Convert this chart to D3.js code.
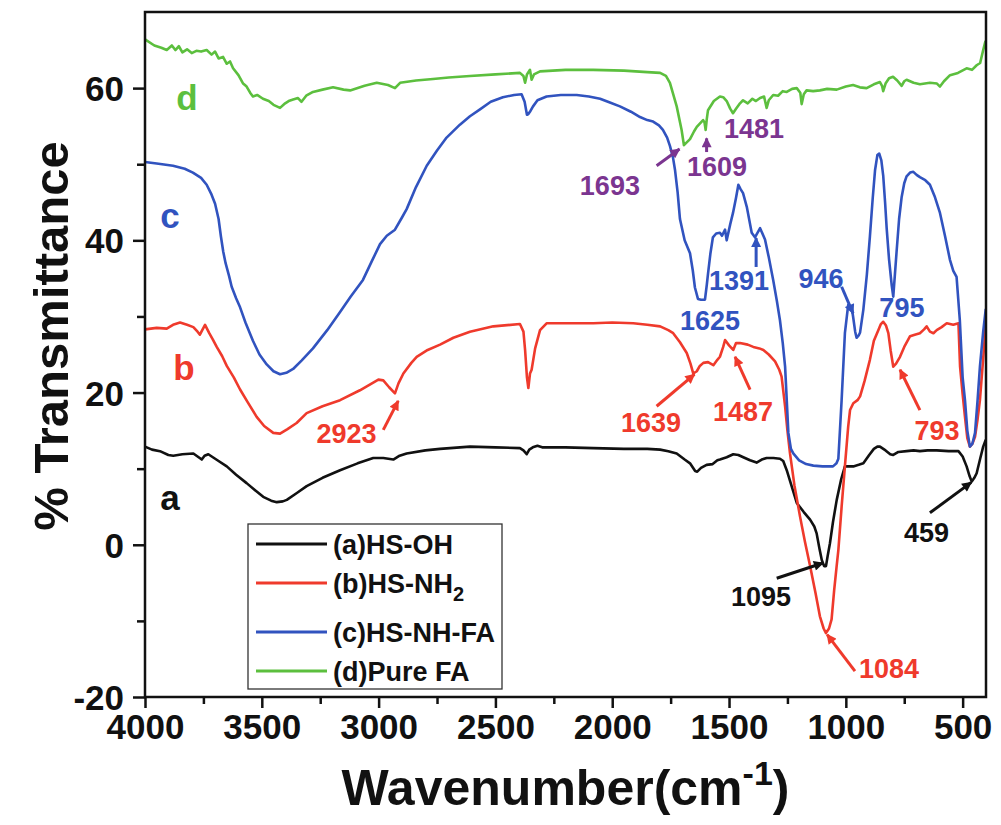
<!DOCTYPE html>
<html>
<head>
<meta charset="utf-8">
<script src="https://cdn.jsdelivr.net/npm/d3@7/dist/d3.min.js"></script>
<style>
  body { margin: 0; background: #fff; }
  svg text { font-family: "Liberation Sans", Arial, sans-serif; font-weight: bold; }
</style>
</head>
<body>
<div id="chart"></div>
<script>
// spectra: [wavenumber, % transmittance]
let specA = [[4000,12.9],[3970,12.5],[3936,12.3],[3900,11.8],[3879,11.7],[3840,11.9],[3793,12.0],[3775,11.6],[3757,11.2],[3745,11.7],[3729,11.9],[3690,11.1],[3650,10.3],[3610,9.2],[3565,8.1],[3530,7.2],[3494,6.3],[3460,5.8],[3436,5.6],[3410,5.7],[3393,5.9],[3350,6.8],[3308,7.7],[3240,8.8],[3165,9.8],[3090,10.7],[3023,11.4],[2980,11.4],[2937,11.2],[2910,11.7],[2880,12.0],[2800,12.4],[2737,12.6],[2609,12.9],[2500,12.8],[2395,12.7],[2380,12.4],[2366,11.9],[2355,12.5],[2340,12.8],[2320,13.0],[2300,12.8],[2200,12.8],[2081,12.7],[1950,12.6],[1850,12.6],[1795,12.5],[1760,12.3],[1724,12.0],[1690,11.2],[1667,10.7],[1645,9.7],[1636,9.6],[1620,10.1],[1596,10.5],[1570,10.6],[1550,11.1],[1539,11.2],[1510,11.5],[1482,11.9],[1460,11.8],[1439,11.5],[1410,11.1],[1382,10.8],[1360,11.2],[1339,11.4],[1310,11.4],[1282,11.3],[1268,11.0],[1253,9.8],[1235,8.0],[1210,5.5],[1180,4.3],[1153,3.3],[1135,2.4],[1125,1.5],[1113,-0.5],[1103,-2.0],[1093,-2.8],[1085,-2.8],[1078,-1.5],[1068,0.2],[1055,3.0],[1039,5.9],[1020,8.6],[1004,10.3],[985,10.3],[968,10.3],[945,10.5],[925,10.7],[900,11.8],[880,12.6],[865,12.9],[854,12.9],[830,12.4],[810,11.9],[797,11.8],[775,12.2],[740,12.3],[710,12.4],[683,12.3],[650,12.4],[611,12.4],[560,12.3],[518,12.3],[500,11.6],[483,10.3],[470,9.0],[461,8.3],[450,8.8],[440,9.4],[425,11.3],[412,12.9],[401,13.8]];

let specB = [[4000,28.3],[3950,28.5],[3907,28.4],[3880,28.9],[3850,29.2],[3820,28.9],[3793,28.6],[3775,28.0],[3765,27.6],[3755,28.2],[3743,28.9],[3725,27.8],[3710,27.0],[3693,26.0],[3670,24.8],[3650,23.5],[3620,22.0],[3593,20.4],[3560,18.7],[3522,16.8],[3490,15.6],[3451,14.7],[3422,14.6],[3390,15.2],[3351,16.0],[3308,17.3],[3240,18.2],[3165,19.0],[3080,20.3],[3001,21.7],[2980,21.6],[2955,20.7],[2930,19.9],[2915,21.2],[2894,22.5],[2860,23.9],[2837,24.7],[2790,25.6],[2737,26.3],[2680,27.2],[2609,28.0],[2509,28.7],[2395,29.0],[2380,28.0],[2373,25.6],[2365,22.0],[2359,20.6],[2352,22.5],[2345,23.0],[2330,25.8],[2309,28.2],[2281,29.1],[2200,29.1],[2081,29.1],[2000,29.2],[1910,29.1],[1850,28.9],[1795,28.7],[1760,28.2],[1739,27.8],[1710,26.6],[1681,25.2],[1665,23.8],[1653,22.5],[1638,22.8],[1625,23.5],[1610,23.9],[1590,24.0],[1567,23.6],[1550,24.3],[1539,24.7],[1525,26.0],[1517,26.9],[1500,26.2],[1482,25.6],[1470,26.5],[1453,26.5],[1420,26.3],[1396,26.0],[1370,25.8],[1353,25.6],[1330,25.0],[1303,24.1],[1285,23.0],[1275,22.1],[1265,19.5],[1260,18.2],[1250,15.0],[1239,12.0],[1220,7.8],[1196,3.7],[1175,0.4],[1153,-2.8],[1130,-6.3],[1111,-9.4],[1095,-11.0],[1085,-11.6],[1072,-11.0],[1061,-9.8],[1050,-6.0],[1040,-3.0],[1032,-0.7],[1018,5.0],[1004,10.3],[990,15.5],[982,17.7],[968,18.6],[950,19.0],[939,19.5],[920,21.5],[897,24.3],[880,26.8],[861,28.2],[850,29.0],[840,29.3],[828,28.8],[818,27.8],[808,25.5],[797,23.4],[785,23.8],[768,24.7],[750,26.0],[725,27.4],[705,27.6],[683,27.8],[665,28.3],[654,28.7],[640,28.0],[625,27.8],[611,28.2],[590,28.6],[568,29.1],[540,28.9],[518,29.1],[511,23.4],[500,19.8],[490,16.8],[480,14.0],[469,12.9],[458,13.3],[447,14.2],[436,16.5],[426,19.0],[412,24.5],[401,29.0]];

let specC = [[4000,50.3],[3950,50.1],[3880,49.8],[3830,49.4],[3795,48.9],[3760,48.2],[3736,47.3],[3715,46.0],[3700,44.8],[3685,42.8],[3675,40.5],[3665,38.5],[3655,37.0],[3640,35.3],[3629,33.9],[3610,32.4],[3593,31.2],[3570,29.2],[3538,26.8],[3510,25.0],[3479,23.7],[3450,22.8],[3422,22.4],[3395,22.6],[3366,23.1],[3330,24.2],[3281,25.8],[3220,28.2],[3165,30.6],[3120,32.6],[3067,34.8],[3030,37.2],[2994,39.5],[2965,40.6],[2930,41.4],[2900,43.0],[2880,44.1],[2840,47.0],[2794,49.8],[2750,51.8],[2709,53.5],[2652,55.2],[2609,56.3],[2566,57.2],[2520,58.2],[2468,58.8],[2420,59.1],[2388,59.2],[2375,58.2],[2365,56.5],[2359,56.6],[2350,57.0],[2339,57.6],[2320,58.4],[2281,58.9],[2220,59.1],[2152,59.1],[2100,58.9],[2052,58.6],[2010,58.1],[1967,57.6],[1920,56.9],[1881,56.2],[1850,55.8],[1825,55.6],[1800,55.1],[1783,54.5],[1765,53.5],[1753,52.4],[1740,50.9],[1731,49.2],[1720,46.3],[1710,42.8],[1690,40.0],[1667,38.3],[1655,36.0],[1646,33.8],[1633,32.3],[1620,32.2],[1603,32.2],[1595,34.2],[1590,35.6],[1580,38.2],[1569,40.4],[1555,40.9],[1539,41.0],[1530,40.6],[1517,41.4],[1510,40.0],[1495,42.1],[1483,43.6],[1470,45.6],[1460,47.3],[1450,46.7],[1440,46.2],[1424,44.4],[1403,41.0],[1389,40.4],[1367,41.6],[1346,40.1],[1330,37.8],[1311,34.8],[1295,32.0],[1282,29.5],[1270,26.5],[1260,23.4],[1246,14.7],[1235,12.6],[1225,12.0],[1200,11.1],[1170,10.6],[1139,10.4],[1100,10.3],[1055,10.3],[1040,10.7],[1032,11.3],[1018,19.0],[1004,27.8],[990,31.5],[975,31.2],[969,30.0],[960,28.0],[954,27.2],[945,27.5],[939,27.9],[925,30.9],[910,35.5],[897,40.5],[885,45.5],[875,49.2],[865,51.2],[857,51.4],[848,50.5],[840,48.5],[832,45.0],[825,41.5],[815,37.5],[804,34.2],[797,32.6],[790,35.5],[783,38.4],[772,42.8],[761,45.7],[750,47.5],[740,48.4],[725,48.9],[711,49.0],[697,48.6],[683,48.3],[660,47.9],[640,47.3],[620,45.8],[597,43.6],[575,40.5],[554,37.4],[540,36.0],[526,35.2],[512,29.5],[500,22.0],[490,19.0],[480,15.0],[469,12.9],[458,13.3],[447,14.7],[436,19.0],[426,23.4],[412,28.0],[401,31.0]];

let specD = [[4000,66.4],[3960,65.6],[3930,65.3],[3907,65.0],[3885,65.6],[3870,65.0],[3855,65.5],[3840,64.7],[3820,65.1],[3800,64.6],[3780,64.9],[3760,64.8],[3736,65.0],[3715,64.4],[3700,64.8],[3685,63.9],[3666,64.1],[3650,63.2],[3636,63.5],[3623,62.6],[3600,61.7],[3580,60.6],[3565,60.2],[3550,59.4],[3538,58.9],[3520,59.1],[3495,58.6],[3470,58.3],[3450,57.8],[3422,57.4],[3400,58.0],[3385,58.3],[3366,58.5],[3345,58.7],[3330,58.2],[3310,59.0],[3281,59.5],[3240,59.8],[3195,60.1],[3150,59.8],[3122,59.7],[3060,60.3],[3008,60.7],[2960,60.4],[2930,60.0],[2908,60.7],[2840,61.0],[2767,61.2],[2700,61.4],[2609,61.6],[2500,61.8],[2395,62.0],[2380,61.6],[2373,60.7],[2365,61.8],[2352,62.4],[2345,61.1],[2335,61.8],[2309,62.2],[2200,62.4],[2082,62.4],[1950,62.3],[1850,62.1],[1795,62.0],[1770,61.6],[1753,60.7],[1740,59.3],[1724,57.6],[1703,54.5],[1693,52.5],[1680,52.9],[1667,53.3],[1650,54.3],[1638,54.9],[1611,55.8],[1605,55.5],[1600,54.5],[1595,56.0],[1590,57.1],[1565,58.3],[1539,58.9],[1525,58.8],[1510,58.3],[1495,57.3],[1483,56.7],[1470,57.3],[1453,58.0],[1440,58.4],[1420,58.0],[1400,58.6],[1385,58.3],[1367,58.7],[1350,58.9],[1339,57.4],[1330,58.4],[1311,59.1],[1290,59.0],[1270,59.6],[1253,59.5],[1230,59.9],[1210,60.0],[1195,59.4],[1189,57.9],[1180,59.2],[1168,59.7],[1140,59.6],[1111,59.7],[1080,59.9],[1039,59.8],[1000,60.2],[969,60.4],[940,60.1],[911,60.0],[880,60.5],[854,60.8],[845,60.3],[840,59.6],[830,60.6],[815,61.3],[798,61.5],[780,61.0],[761,60.3],[750,60.9],[740,61.1],[710,60.7],[683,60.5],[640,60.7],[610,60.6],[597,60.2],[580,60.9],[554,61.7],[520,62.0],[483,62.6],[460,62.4],[440,63.0],[425,63.3],[412,65.0],[402,66.2]];

let seriesNames = ["(a)HS-OH", "(b)HS-NH", "(c)HS-NH-FA", "(d)Pure FA"];
let seriesLetters = ["a", "b", "c", "d"];
let seriesColors = ["#111111", "#ef3a2c", "#3153bf", "#5cbf3e"];
let seriesData = [specA, specB, specC, specD];
// where the curve letters sit [wavenumber, T]
let letterPos = [[3893, 4.6], [3833, 21.7], [3893, 41.6], [3820, 57.1]];

let xTicks = [4000, 3500, 3000, 2500, 2000, 1500, 1000, 500];
let xMinor = [3750, 3250, 2750, 2250, 1750, 1250, 750];
let yTicks = [-20, 0, 20, 40, 60];
let yMinor = [-10, 10, 30, 50];

let purple = "#7b3590";
// peak labels: text at [tx, ty], arrow from [x1,y1] to [x2,y2] (data coords)
let peakLabels = [
  {text: "1693", color: purple, tx: 2010, ty: 46.0, arrow: [1810, 49.8, 1712, 52.0]},
  {text: "1609", color: purple, tx: 1551, ty: 48.5, arrow: [1596, 51.6, 1596, 53.4]},
  {text: "1481", color: purple, tx: 1393, ty: 53.4, arrow: null},
  {text: "1625", color: "#3153bf", tx: 1581, ty: 28.2, arrow: null},
  {text: "1391", color: "#3153bf", tx: 1457, ty: 33.5, arrow: [1384, 36.5, 1384, 40.3]},
  {text: "946", color: "#3153bf", tx: 1106, ty: 33.7, arrow: [1018, 33.9, 969, 30.4]},
  {text: "795", color: "#3153bf", tx: 760, ty: 29.9, arrow: null},
  {text: "2923", color: "#ef3a2c", tx: 3137, ty: 13.4, arrow: [2980, 15.1, 2916, 18.9]},
  {text: "1639", color: "#ef3a2c", tx: 1834, ty: 14.8, arrow: [1810, 18.2, 1648, 22.4]},
  {text: "1487", color: "#ef3a2c", tx: 1440, ty: 16.3, arrow: [1410, 20.4, 1474, 24.7]},
  {text: "793", color: "#ef3a2c", tx: 610, ty: 13.8, arrow: [683, 17.7, 768, 23.0]},
  {text: "1084", color: "#ef3a2c", tx: 815, ty: -17.5, arrow: [961, -16.6, 1080, -11.8]},
  {text: "1095", color: "#111111", tx: 1363, ty: -8.1, arrow: [1296, -4.4, 1098, -2.4]},
  {text: "459", color: "#111111", tx: 655, ty: 0.4, arrow: [640, 4.2, 463, 8.2]}
];

let width = 1001, height = 825;
let margin = {left: 145, top: 12, right: 15, bottom: 128};

let svg = d3.select("#chart").append("svg")
  .attr("width", width)
  .attr("height", height);

let xScale = d3.scaleLinear()
  .domain([4000, 400])
  .range([margin.left, width - margin.right]);
let yScale = d3.scaleLinear()
  .domain([-20, 70])
  .range([height - margin.bottom, margin.top]);

// arrow heads, one per colour
let defs = svg.append("defs");
let arrowColors = Array.from(new Set(peakLabels.map(d => d.color)));
arrowColors.forEach((c, i) => {
  defs.append("marker")
    .attr("id", "arr" + i)
    .attr("viewBox", "0 0 10 10")
    .attr("refX", 9).attr("refY", 5)
    .attr("markerWidth", 13).attr("markerHeight", 10)
    .attr("markerUnits", "userSpaceOnUse")
    .attr("orient", "auto")
    .append("path")
    .attr("d", "M0,0 L10,5 L0,10 z")
    .attr("fill", c);
});

// plain hyphen for negatives, like the original
let fmt = d => String(d);

// axes
let xAxis = svg.append("g")
  .attr("transform", "translate(0," + (height - margin.bottom) + ")")
  .call(d3.axisBottom(xScale).tickValues(xTicks).tickSize(11).tickSizeOuter(0).tickPadding(6).tickFormat(fmt));
xAxis.append("g").call(d3.axisBottom(xScale).tickValues(xMinor).tickSize(7).tickFormat(""));
xAxis.selectAll("text").attr("font-size", "35px").attr("fill", "#111");

let yAxis = svg.append("g")
  .attr("transform", "translate(" + margin.left + ",0)")
  .call(d3.axisLeft(yScale).tickValues(yTicks).tickSize(12).tickSizeOuter(0).tickPadding(9).tickFormat(fmt));
yAxis.append("g").call(d3.axisLeft(yScale).tickValues(yMinor).tickSize(8).tickFormat(""));
yAxis.selectAll("text").attr("font-size", "35px").attr("fill", "#111").attr("dy", "0.36em");

svg.selectAll(".domain").remove();
svg.selectAll(".tick line").attr("stroke", "#111").attr("stroke-width", 2.5);

// spectra
let line = d3.line()
  .x(d => xScale(d[0]))
  .y(d => yScale(d[1]))
  .curve(d3.curveLinear);

svg.append("g").selectAll("path")
  .data(seriesData)
  .enter()
  .append("path")
  .attr("d", d => line(d))
  .attr("fill", "none")
  .attr("stroke", (d, i) => seriesColors[i])
  .attr("stroke-width", 2.6)
  .attr("stroke-linejoin", "round");

// frame
svg.append("rect")
  .attr("x", margin.left)
  .attr("y", margin.top)
  .attr("width", width - margin.left - margin.right)
  .attr("height", height - margin.top - margin.bottom)
  .attr("fill", "none")
  .attr("stroke", "#111")
  .attr("stroke-width", 2.5);

// curve letters
svg.append("g").selectAll("text")
  .data(letterPos)
  .enter()
  .append("text")
  .attr("x", d => xScale(d[0]))
  .attr("y", d => yScale(d[1]))
  .attr("text-anchor", "middle")
  .attr("font-size", "35px")
  .attr("fill", (d, i) => seriesColors[i])
  .text((d, i) => seriesLetters[i]);

// peak labels and arrows
let ann = svg.append("g");
peakLabels.forEach(p => {
  ann.append("text")
    .attr("x", xScale(p.tx))
    .attr("y", yScale(p.ty))
    .attr("text-anchor", "middle")
    .attr("font-size", "27px")
    .attr("fill", p.color)
    .text(p.text);
  if (p.arrow) {
    ann.append("line")
      .attr("x1", xScale(p.arrow[0]))
      .attr("y1", yScale(p.arrow[1]))
      .attr("x2", xScale(p.arrow[2]))
      .attr("y2", yScale(p.arrow[3]))
      .attr("stroke", p.color)
      .attr("stroke-width", 3)
      .attr("marker-end", "url(#arr" + arrowColors.indexOf(p.color) + ")");
  }
});

// legend
let legendRows = [20, 59, 108, 147];
let legend = svg.append("g").attr("transform", "translate(248,524)");
legend.append("rect")
  .attr("width", 254).attr("height", 165)
  .attr("fill", "#fff").attr("stroke", "#333").attr("stroke-width", 1.3);
seriesNames.forEach((name, i) => {
  legend.append("line")
    .attr("x1", 8).attr("x2", 79)
    .attr("y1", legendRows[i]).attr("y2", legendRows[i])
    .attr("stroke", seriesColors[i]).attr("stroke-width", 3);
  let t = legend.append("text")
    .attr("x", 85).attr("y", legendRows[i] + 10)
    .attr("font-size", "27px")
    .attr("fill", "#111")
    .text(name);
  if (i === 1) {
    t.append("tspan").attr("dy", 8).attr("font-size", "20px").text("2");
  }
});

// axis titles
let xTitle = svg.append("text")
  .attr("x", (margin.left + width - margin.right) / 2)
  .attr("y", 805)
  .attr("text-anchor", "middle")
  .attr("font-size", "50px")
  .attr("fill", "#111")
  .text("Wavenumber(cm");
xTitle.append("tspan").attr("dy", -20).attr("font-size", "34px").text("-1");
xTitle.append("tspan").attr("dy", 20).attr("font-size", "50px").text(")");

svg.append("text")
  .attr("transform", "translate(68,336) rotate(-90)")
  .attr("text-anchor", "middle")
  .attr("font-size", "49px")
  .attr("fill", "#111")
  .text("% Transmittance");
</script>
</body>
</html>
